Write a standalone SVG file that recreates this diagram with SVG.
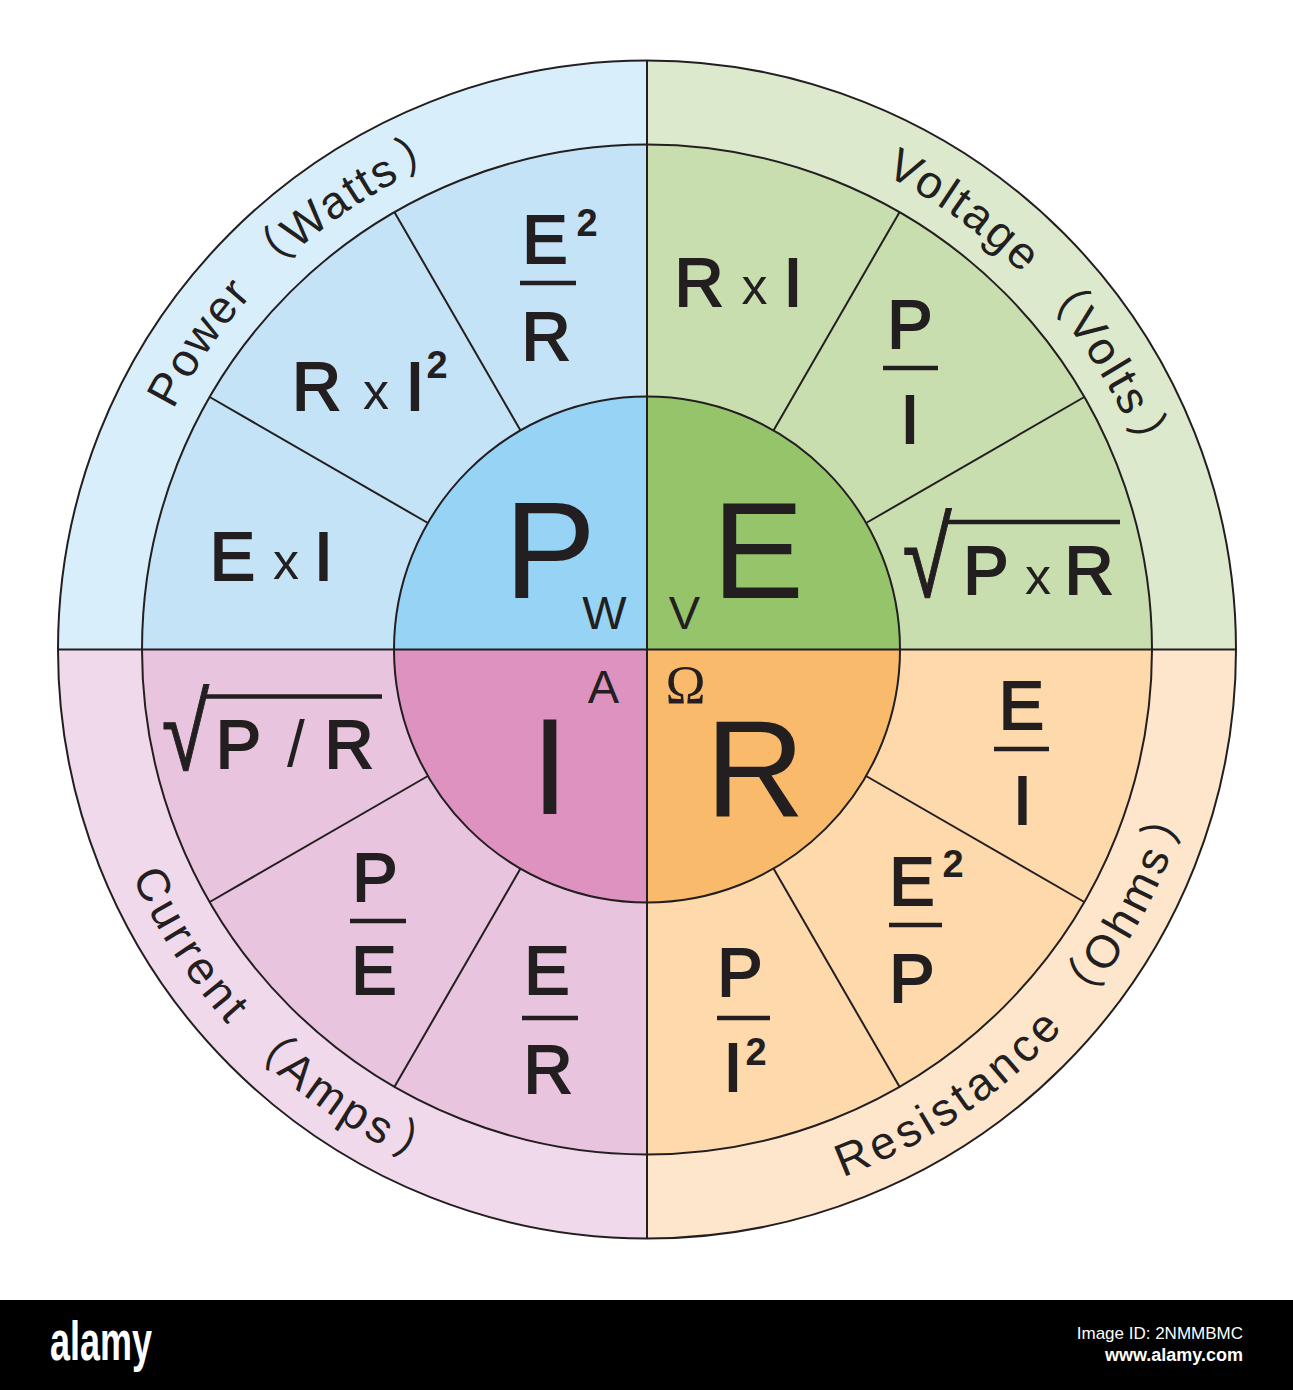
<svg xmlns="http://www.w3.org/2000/svg" xmlns:xlink="http://www.w3.org/1999/xlink" width="1293" height="1390" viewBox="0 0 1293 1390">
<style>
.t{font-family:"Liberation Sans",Arial,"Noto Sans CJK SC",sans-serif;fill:#231f20;}
.frm{font-size:68px;stroke:#231f20;stroke-width:2px;text-anchor:middle;}
.xs{font-size:52px;text-anchor:middle;}
.sup{font-size:38px;font-weight:bold;text-anchor:middle;}
.big{font-size:138px;text-anchor:middle;}
.unit{font-size:47px;text-anchor:middle;}
.ring{font-size:46px;}
.cjk{font-family:"Noto Sans CJK SC",sans-serif;}
.rad{text-anchor:middle;stroke:#231f20;stroke-width:1px;}
.bar{stroke:#231f20;stroke-width:4.5;}
.edge{fill:none;stroke:#231f20;stroke-width:2;}
.wm{font-family:"Liberation Sans Narrow","Liberation Sans",sans-serif;fill:#ffffff;}
</style>
<defs>
<path id="topArc" d="M124.1 557.3 A531 531 0 0 1 1169.9 557.3"/>
<path id="botArc" d="M92.6 747.2 A563 563 0 0 0 1201.4 747.2"/>
</defs>
<rect width="1293" height="1390" fill="#ffffff"/>

<g id="power">
<path d="M647 649.5 L58 649.5 A589 589 0 0 1 647 60.5 Z" fill="#d9eefb"/>
<path d="M647 649.5 L142 649.5 A505 505 0 0 1 647 144.5 Z" fill="#c5e3f7"/>
<path d="M647 649.5 L394 649.5 A253 253 0 0 1 647 396.5 Z" fill="#96d3f5"/>
<text class="t ring" transform="rotate(-42.4 647 649.5)"><textPath xlink:href="#topArc" href="#topArc" startOffset="50%" text-anchor="middle" letter-spacing="2.2">Power<tspan class="cjk" dx="14">（</tspan>Watts<tspan class="cjk" dx="6">）</tspan></textPath></text>
<text class="t frm" x="545" y="263">E</text><text class="t sup" x="587" y="236">2</text>
<line class="bar" x1="520" y1="283" x2="576" y2="283"/>
<text class="t frm" x="546" y="360">R</text>
<text class="t"><tspan class="frm" x="316.5" y="410">R</tspan><tspan class="xs" x="376" y="409">x</tspan><tspan class="frm" x="415" y="410">I</tspan><tspan class="sup" x="437" y="378">2</tspan></text>
<text class="t"><tspan class="frm" x="232.5" y="580">E</tspan><tspan class="xs" x="286" y="579">x</tspan><tspan class="frm" x="323.5" y="580">I</tspan></text>
<text class="t big" x="550" y="597.5">P</text>
<text class="t unit" x="604.5" y="629">W</text>
</g>

<g id="voltage">
<path d="M647 649.5 L647 60.5 A589 589 0 0 1 1236 649.5 Z" fill="#dde9cc"/>
<path d="M647 649.5 L647 144.5 A505 505 0 0 1 1152 649.5 Z" fill="#c8deae"/>
<path d="M647 649.5 L647 396.5 A253 253 0 0 1 900 649.5 Z" fill="#96c46a"/>
<text class="t ring" transform="rotate(48.4 647 649.5)"><textPath xlink:href="#topArc" href="#topArc" startOffset="50%" text-anchor="middle" letter-spacing="2.8">Voltage<tspan class="cjk" dx="14">（</tspan>Volts<tspan class="cjk" dx="6">）</tspan></textPath></text>
<text class="t"><tspan class="frm" x="699" y="306">R</tspan><tspan class="xs" x="754.5" y="304">x</tspan><tspan class="frm" x="793" y="306">I</tspan></text>
<text class="t frm" x="910" y="348">P</text>
<line class="bar" x1="883" y1="368" x2="938" y2="368"/>
<text class="t frm" x="910" y="443">I</text>
<text class="t rad" transform="translate(927 597) scale(0.8 1)" style="font-size:112px">√</text>
<text class="t"><tspan class="frm" x="986" y="594">P</tspan><tspan class="xs" x="1038" y="594">x</tspan><tspan class="frm" x="1089" y="594">R</tspan></text>
<line class="bar" x1="944" y1="522" x2="1120" y2="522"/>
<text class="t big" x="758" y="597.5">E</text>
<text class="t unit" x="684.5" y="629">V</text>
</g>

<g id="current">
<path d="M647 649.5 L647 1238.5 A589 589 0 0 1 58 649.5 Z" fill="#f1d9ec"/>
<path d="M647 649.5 L647 1154.5 A505 505 0 0 1 142 649.5 Z" fill="#e9c4de"/>
<path d="M647 649.5 L647 902.5 A253 253 0 0 1 394 649.5 Z" fill="#de92c0"/>
<text class="t ring" transform="rotate(44.1 647 649.5)"><textPath xlink:href="#botArc" href="#botArc" startOffset="50%" text-anchor="middle" letter-spacing="4">Current<tspan class="cjk" dx="14">（</tspan>Amps<tspan class="cjk" dx="6">）</tspan></textPath></text>
<text class="t rad" transform="translate(185.5 770) scale(0.8 1)" style="font-size:108px">√</text>
<text class="t"><tspan class="frm" x="238.5" y="768">P</tspan><tspan class="xs" x="296" y="766" style="font-size:64px">/</tspan><tspan class="frm" x="349" y="768">R</tspan></text>
<line class="bar" x1="202" y1="696.5" x2="382" y2="696.5"/>
<text class="t frm" x="375" y="901">P</text>
<line class="bar" x1="350" y1="921" x2="406" y2="921"/>
<text class="t frm" x="374" y="994">E</text>
<text class="t frm" x="547" y="994">E</text>
<line class="bar" x1="522" y1="1018" x2="578" y2="1018"/>
<text class="t frm" x="548" y="1093">R</text>
<text class="t big" x="550" y="814">I</text>
<text class="t unit" x="603.5" y="703">A</text>
</g>

<g id="resistance">
<path d="M647 649.5 L1236 649.5 A589 589 0 0 1 647 1238.5 Z" fill="#fde6cc"/>
<path d="M647 649.5 L1152 649.5 A505 505 0 0 1 647 1154.5 Z" fill="#fdd9ab"/>
<path d="M647 649.5 L900 649.5 A253 253 0 0 1 647 902.5 Z" fill="#f9bb6b"/>
<text class="t ring" transform="rotate(-47.55 647 649.5)"><textPath xlink:href="#botArc" href="#botArc" startOffset="50%" text-anchor="middle" letter-spacing="4.5">Resistance<tspan class="cjk" dx="14">（</tspan>Ohms<tspan class="cjk" dx="6">）</tspan></textPath></text>
<text class="t frm" x="1021.5" y="729">E</text>
<line class="bar" x1="994" y1="749" x2="1049" y2="749"/>
<text class="t frm" x="1022.5" y="824">I</text>
<text class="t frm" x="912" y="905">E</text><text class="t sup" x="953" y="877">2</text>
<line class="bar" x1="889" y1="925" x2="942" y2="925"/>
<text class="t frm" x="912" y="1002">P</text>
<text class="t frm" x="740" y="996">P</text>
<line class="bar" x1="717" y1="1018" x2="770" y2="1018"/>
<text class="t"><tspan class="frm" x="733" y="1091">I</tspan><tspan class="sup" x="756" y="1065">2</tspan></text>
<text class="t big" x="755" y="816">R</text>
<text class="t unit" x="685.5" y="703" style="font-family:'Liberation Serif',serif;font-size:54px">Ω</text>
</g>

<g id="connectors">
<circle class="edge" cx="647" cy="649.5" r="589"/>
<circle class="edge" cx="647" cy="649.5" r="505"/>
<circle class="edge" cx="647" cy="649.5" r="253"/>
<line class="edge" x1="647" y1="60.5" x2="647" y2="1238.5"/>
<line class="edge" x1="58" y1="649.5" x2="1236" y2="649.5"/>
<line class="edge" x1="773.5" y1="430.4" x2="899.5" y2="212.2"/>
<line class="edge" x1="866.1" y1="523" x2="1084.3" y2="397"/>
<line class="edge" x1="866.1" y1="776" x2="1084.3" y2="902"/>
<line class="edge" x1="773.5" y1="868.6" x2="899.5" y2="1086.8"/>
<line class="edge" x1="520.5" y1="868.6" x2="394.5" y2="1086.8"/>
<line class="edge" x1="427.9" y1="776" x2="209.7" y2="902"/>
<line class="edge" x1="427.9" y1="523" x2="209.7" y2="397"/>
<line class="edge" x1="520.5" y1="430.4" x2="394.5" y2="212.2"/>
</g>

<g id="footer">
<rect x="0" y="1300" width="1293" height="90" fill="#000000"/>
<text class="wm" x="50" y="1360" font-size="56" font-weight="bold" textLength="102" lengthAdjust="spacingAndGlyphs">alamy</text>
<text class="wm" x="1243" y="1339" font-size="17" text-anchor="end">Image ID: 2NMMBMC</text>
<text class="wm" x="1243" y="1361" font-size="18" font-weight="bold" text-anchor="end">www.alamy.com</text>
</g>
</svg>
